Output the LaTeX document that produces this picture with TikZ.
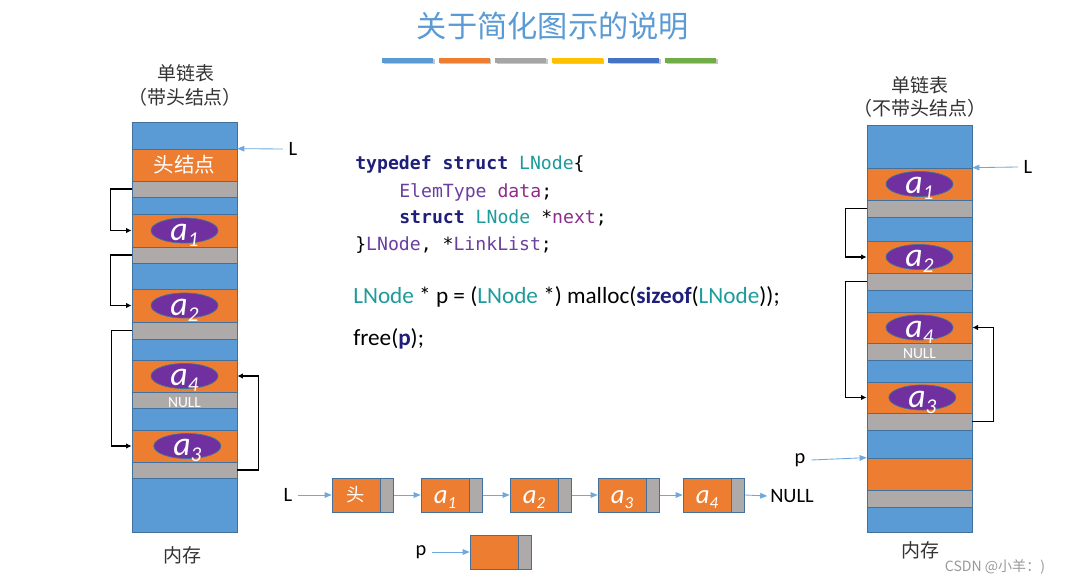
\documentclass[tikz,border=0pt]{standalone}
\usepackage{fontspec}
\setmainfont{Carlito}
\setmonofont{DejaVu Sans Mono}
\newfontfamily\cjk{Noto Sans CJK SC}
\usetikzlibrary{positioning, arrows.meta, shapes.geometric}

\definecolor{cellblue}{HTML}{5B9BD5}
\definecolor{cellorange}{HTML}{ED7D31}
\definecolor{cellgray}{HTML}{AEAAAA}
\definecolor{cellline}{HTML}{41719C}
\definecolor{elpurple}{HTML}{7030A0}
\definecolor{ptrblue}{HTML}{6FA8DC}
\definecolor{titleblue}{HTML}{5B9BD5}
\definecolor{headgray}{HTML}{333333}
\definecolor{barA}{HTML}{5B9BD5}
\definecolor{barB}{HTML}{ED7D31}
\definecolor{barC}{HTML}{A5A5A5}
\definecolor{barD}{HTML}{FFC000}
\definecolor{barE}{HTML}{4472C4}
\definecolor{barF}{HTML}{70AD47}
\definecolor{kwnavy}{HTML}{1F1F7A}
\definecolor{tyteal}{HTML}{1E9B9B}
\definecolor{pviolet}{HTML}{6B3FA0}
\definecolor{pmag}{HTML}{8B2E8B}

% element label a_i, optional size of the index
\newcommand{\elm}[2][15]{\textit{a}\raisebox{-0.17em}{\fontsize{#1}{#1}\selectfont\textit{#2}}}

\begin{document}
\begin{tikzpicture}[
  x=0.025cm, y=-0.025cm,
  cell/.style={draw=cellline, line width=0.5pt, minimum width=2.625cm,
    inner sep=0pt, minimum height=#1*0.025cm},
  mem/.style={cell=#1, fill=cellblue},
  dat/.style={cell=#1, fill=cellorange},
  nxt/.style={cell=#1, fill=cellgray},
  elp/.style={ellipse, draw=cellline, line width=0.5pt, fill=elpurple,
    minimum width=1.675cm, minimum height=0.625cm, inner sep=0pt},
  elab/.style={text=white, font=\fontsize{24}{24}\selectfont, inner sep=0pt,
    text height=14pt, text depth=0pt},
  nulltxt/.style={text=white, font=\fontsize{11}{12}\selectfont, inner sep=0pt},
  heading/.style={font=\cjk\fontsize{13.5}{16}\selectfont, text=headgray, inner sep=0pt},
  lbl/.style={font=\fontsize{14.5}{16}\selectfont, inner sep=4pt},
  link/.style={-{Latex[length=4pt, width=4pt]}, line width=0.9pt, black},
  ptr/.style={-{Triangle[length=5pt, width=4pt]}, line width=0.6pt, ptrblue},
  box/.style={draw=cellline, line width=0.5pt, fill=cellorange, text=white,
    minimum width=1.2cm, minimum height=0.85cm, inner sep=0pt},
  alab/.style={font=\fontsize{19}{19}\selectfont, text height=12.4pt, text depth=0pt},
  ptrbox/.style={draw=cellline, line width=0.5pt, fill=cellgray,
    minimum width=0.325cm, minimum height=0.85cm, inner sep=0pt},
  code/.style={anchor=west, inner sep=0pt, font=\ttfamily\fontsize{12.9}{15}\selectfont},
  scode/.style={anchor=west, inner sep=0pt, font=\fontsize{16.5}{18}\selectfont},
]
\path[fill=white, use as bounding box] (0,0) rectangle (1065,584);

% === Title ===
\node[font=\cjk\fontsize{21.5}{24}\selectfont, text=titleblue] (title)
  at (553,26) {关于简化图示的说明};
\foreach \c [count=\i from 0] in {barA, barB, barC, barD, barE, barF} {
  \fill[black!22] (383.5+\i*56.6,59.5) rectangle ++(51,5);
  \fill[\c] (382+\i*56.6,58) rectangle ++(51,5);
}

% === Memory with head node (left) ===
\node[heading] (lt1) at (186,73) {单链表};
\node[heading] (lt2) at (185,97) {（带头结点）};

\node[mem=27] (l0)  at (184.5,135.5) {};
\node[dat=32, text=white, font=\cjk\fontsize{14.6}{16}\selectfont] (lh) at (184.5,165) {头结点};
\node[nxt=16] (lhn) at (184.5,189) {};
\node[mem=17] (lf1) at (184.5,205.5) {};
\node[dat=33] (la1) at (184.5,230.5) {};
\node[nxt=16] (ln1) at (184.5,255) {};
\node[mem=26] (lf2) at (184.5,276) {};
\node[dat=33] (la2) at (184.5,305.5) {};
\node[nxt=17] (ln2) at (184.5,330.5) {};
\node[mem=21] (lf3) at (184.5,349.5) {};
\node[dat=32] (la4) at (184.5,376) {};
\node[nxt=16] (ln4) at (184.5,400) {};
\node[mem=22] (lf4) at (184.5,419) {};
\node[dat=32] (la3) at (184.5,446) {};
\node[nxt=16] (ln3) at (184.5,470) {};
\node[mem=54] (lf5) at (184.5,505) {};

\node[elp] (le1) at (la1) {};
\node[elab] at (le1) {\elm{1}};
\node[elp] (le2) at (la2) {};
\node[elab] at (le2) {\elm{2}};
\node[elp] (le4) at (la4) {};
\node[elab] at (le4) {\elm{4}};
\node[elp] (le3) at ([xshift=2pt]la3) {};
\node[elab] at (le3) {\elm{3}};
\node[nulltxt] at ([yshift=-1.5pt]ln4) {NULL};

\draw[link] (lhn.west) -- ++(-21,0) |- (la1.west);
\draw[link] (ln1.west) -- ++(-21,0) |- (la2.west);
\draw[link] (ln2.west) -- ++(-20,0) |- (la3.west);
\draw[link] (ln3.east) -- ++(21,0) |- (la4.east);

\node[lbl] (lL) at (293,149) {L};
\draw[ptr] (lL.west) -- (lh.north east);

\node[heading] (lmem) at (182,555) {内存};

% === Memory without head node (right) ===
\node[heading] (rt1) at (920,85) {单链表};
\node[heading] (rt2) at (920,108) {（不带头结点）};

\node[mem=43] (r0)  at (919.5,146.5) {};
\node[dat=32] (ra1) at (919.5,184) {};
\node[nxt=17] (rn1) at (919.5,208.5) {};
\node[mem=24] (rf1) at (919.5,229) {};
\node[dat=32] (ra2) at (919.5,257) {};
\node[nxt=17] (rn2) at (919.5,281.5) {};
\node[mem=22] (rf2) at (919.5,301) {};
\node[dat=31] (ra4) at (919.5,327.5) {};
\node[nxt=17] (rn4) at (919.5,351.5) {};
\node[mem=22] (rf3) at (919.5,371) {};
\node[dat=31] (ra3) at (919.5,397.5) {};
\node[nxt=17] (rn3) at (919.5,421.5) {};
\node[mem=28] (rf4) at (919.5,444) {};
\node[dat=32] (rpn) at (919.5,474) {};
\node[nxt=17] (rpg) at (919.5,498.5) {};
\node[mem=25] (rf5) at (919.5,519.5) {};

\node[elp] (re1) at (ra1) {};
\node[elab] at (re1) {\elm{1}};
\node[elp] (re2) at (ra2) {};
\node[elab] at (re2) {\elm{2}};
\node[elp] (re4) at (ra4) {};
\node[elab] at (re4) {\elm{4}};
\node[elp] (re3) at ([xshift=2pt]ra3) {};
\node[elab] at (re3) {\elm{3}};
\node[nulltxt] at ([yshift=-1.5pt]rn4) {NULL};

\draw[link] (rn1.west) -- ++(-21,0) |- (ra2.west);
\draw[link] (rn2.west) -- ++(-21,0) |- (ra3.west);
\draw[link] (rn3.east) -- ++(21,0) |- (ra4.east);

\node[lbl] (rL) at (1028,167) {L};
\draw[ptr] (rL.west) -- (ra1.north east);
\node[lbl] (rp) at (800,460) {p};
\draw[ptr] (rp.east) -- (rpn.north west);

\node[heading] (rmem) at (920,550) {内存};

% === Code ===
\node[code] (c1) at (355,164)
  {\textbf{\textcolor{kwnavy}{typedef struct}} \textcolor{tyteal}{LNode}\{};
\node[code] (c2) at (399,192)
  {\textcolor{pviolet}{ElemType} \textcolor{pmag}{data};};
\node[code] (c3) at (399,218)
  {\textbf{\textcolor{kwnavy}{struct}} \textcolor{tyteal}{LNode} *\textcolor{pmag}{next};};
\node[code] (c4) at (355,245)
  {\}\textcolor{pviolet}{LNode}, *\textcolor{pviolet}{LinkList};};
\node[scode] (c5) at (353,297)
  {\textcolor{tyteal}{LNode} * p = (\textcolor{tyteal}{LNode} *) malloc(\textbf{\textcolor{kwnavy}{sizeof}}(\textcolor{tyteal}{LNode}));};
\node[scode] (c6) at (353,339)
  {free(\textbf{\textcolor{kwnavy}{p}});};

% === Simplified chain (bottom) ===
\node[lbl] (bL) at (288,495) {L};
\node[box, font=\cjk\fontsize{13}{14}\selectfont] (bh) at (356,495) {头};
\node[ptrbox, right=0pt of bh] (bhn) {};
\node[box, alab] (b1) at (445,495) {\elm[12]{1}};
\node[ptrbox, right=0pt of b1] (b1n) {};
\node[box, alab] (b2) at (534,495) {\elm[12]{2}};
\node[ptrbox, right=0pt of b2] (b2n) {};
\node[box, alab] (b3) at (622,495) {\elm[12]{3}};
\node[ptrbox, right=0pt of b3] (b3n) {};
\node[box, alab] (b4) at (707,495) {\elm[12]{4}};
\node[ptrbox, right=0pt of b4] (b4n) {};
\node[lbl, inner sep=2pt] (bnull) at (792,496) {NULL};

\draw[ptr] (bL.east) -- (bh.west);
\draw[ptr] (bhn.east) -- (b1.west);
\draw[ptr] (b1n.east) -- (b2.west);
\draw[ptr] (b2n.east) -- (b3.west);
\draw[ptr] (b3n.east) -- (b4.west);
\draw[ptr] (b4n.east) -- (bnull.west);

\node[lbl] (bp) at (421,552) {p};
\node[box] (pb) at (494,552) {};
\node[ptrbox, right=0pt of pb] (pbn) {};
\draw[ptr] (bp.east) -- (pb.west);

% watermark
\node[font=\cjk\fontsize{10}{12}\selectfont, text=black!40] (wm) at (995,567) {CSDN @小羊：)};
\end{tikzpicture}
\end{document}
